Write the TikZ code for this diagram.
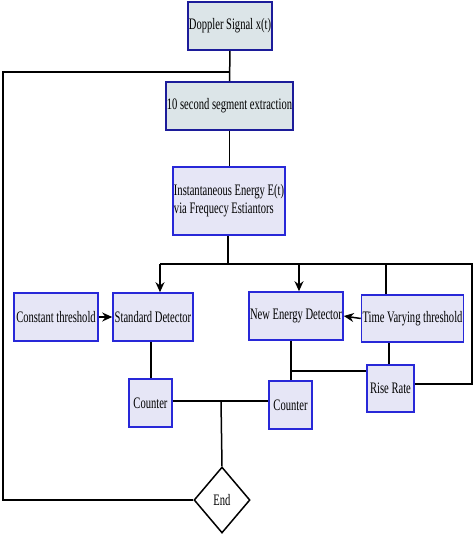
\documentclass[tikz,border=0pt]{standalone}
\usepackage{fontspec}
\setmainfont{Liberation Serif}[FakeStretch=0.66]
\usetikzlibrary{shapes.geometric,arrows.meta}
\definecolor{boxblue}{HTML}{2828D8}
\definecolor{boxnavy}{HTML}{1C1C9A}
\definecolor{fillgray}{HTML}{DCE5E8}
\definecolor{filllav}{HTML}{E6E6F6}
\tikzset{
  box/.style={draw=boxblue, line width=1.6pt, fill=filllav, inner sep=1pt, font=\fontsize{16}{18}\selectfont, align=center},
  graybox/.style={box, draw=boxnavy, fill=fillgray},
  conn/.style={line width=1.5pt, draw=black},
  arr/.style={conn, -{Stealth[length=10pt,width=9pt]}},
}
\begin{document}
\begin{tikzpicture}[x=1pt,y=-1pt]
\useasboundingbox (0,0) rectangle (474,535);
\node[graybox, minimum width=83pt, minimum height=48pt] (dop) at (230,26) {Doppler Signal x(t)};
\node[graybox, minimum width=123pt, minimum height=48pt] (seg) at (229.5,106) {10 second segment extraction};
\node[box, minimum width=110pt, minimum height=68pt, align=left] (en) at (229,201) {Instantaneous Energy E(t)\\via Frequecy Estiantors};
\node[box, minimum width=84pt, minimum height=48pt] (con) at (56,317) {Constant threshold};
\node[box, minimum width=80pt, minimum height=48pt] (std) at (153,317) {Standard Detector};
\node[box, minimum width=94pt, minimum height=48pt] (ned) at (296,316) {New Energy Detector};
\node[box, minimum width=99pt, minimum height=47pt] (tvt) at (412.5,318.5) {Time Varying threshold};
\node[box, minimum width=47pt, minimum height=47pt] (rise) at (390.5,388.5) {Rise Rate};
\node[box, minimum width=43pt, minimum height=48pt] (c1) at (150.5,403) {Counter};
\node[box, minimum width=43pt, minimum height=48pt] (c2) at (290.5,405) {Counter};
\node[draw, line width=1.5pt, diamond, minimum width=56pt, minimum height=66pt, inner sep=0pt, font=\fontsize{16}{18}\selectfont] (end) at (222,500) {End};
% junctions
\coordinate (jtop) at (230,72);
\coordinate (lt) at (3,72);
\coordinate (lb) at (3,500);
\coordinate (bus) at (228,264);
\coordinate (busl) at (160,264);
\coordinate (busr) at (472,264);
\coordinate (riser) at (472,384);
\coordinate (jned) at (291,371);
\coordinate (jc) at (221,401);
% connectors
\draw[conn] (dop) -- (seg);
\draw[conn] (end.west) -- (lb) -- (lt) -- (jtop);
\draw[conn] (seg) -- (en.north -| seg);
\draw[conn] (en.south -| bus) -- (bus);
\draw[conn] (busl) -- (busr) -- (riser) -- (rise.east |- riser);
\draw[arr] (busl) -- (busl |- std.north);
\draw[arr] (299,264) -- (299,0 |- ned.north);
\draw[conn] (386,264) -- (386,0 |- tvt.north);
\draw[arr] (con) -- (std);
\draw[arr] (tvt.west) -- (ned.east);
\draw[conn] (389,0 |- tvt.south) -- (389,0 |- rise.north);
\draw[conn] (ned.south -| jned) -- (jned |- c2.north);
\draw[conn] (jned) -- (rise.west |- jned);
\draw[conn] (151,0 |- std.south) -- (151,0 |- c1.north);
\draw[conn] (c1.east |- jc) -- (c2.west |- jc);
\draw[conn] (jc) -- (end.north);
\end{tikzpicture}
\end{document}
